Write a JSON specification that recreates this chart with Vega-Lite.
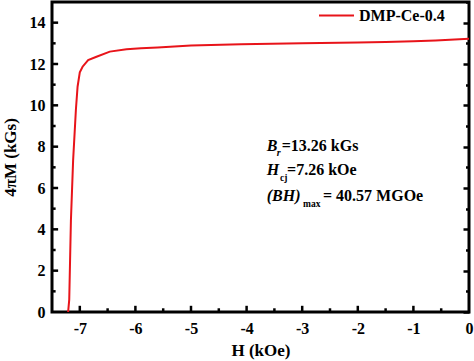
{
  "$schema": "https://vega.github.io/schema/vega-lite/v6.json",
  "width": 417,
  "height": 310,
  "autosize": {"type": "none"},
  "padding": {"left": 52, "top": 2, "right": 5, "bottom": 49},
  "background": "white",
  "config": {
    "view": {"stroke": "#000", "strokeWidth": 3},
    "font": "Times New Roman",
    "axis": {"grid": false, "domain": false, "labelFont": "Times New Roman", "labelFontWeight": "bold", "labelFontSize": 16, "labelColor": "#000", "titleFont": "Times New Roman", "titleFontWeight": "bold", "titleFontSize": 17, "titleColor": "#000", "labelOverlap": false}
  },
  "datasets": {
    "curve": [
      {"H": -7.21, "M": 0, "series": "DMP-Ce-0.4"},
      {"H": -7.19, "M": 0.6, "series": "DMP-Ce-0.4"},
      {"H": -7.16, "M": 4.4, "series": "DMP-Ce-0.4"},
      {"H": -7.12, "M": 7.35, "series": "DMP-Ce-0.4"},
      {"H": -7.07, "M": 9.8, "series": "DMP-Ce-0.4"},
      {"H": -7.04, "M": 10.9, "series": "DMP-Ce-0.4"},
      {"H": -7.0, "M": 11.6, "series": "DMP-Ce-0.4"},
      {"H": -6.95, "M": 11.87, "series": "DMP-Ce-0.4"},
      {"H": -6.85, "M": 12.19, "series": "DMP-Ce-0.4"},
      {"H": -6.7, "M": 12.35, "series": "DMP-Ce-0.4"},
      {"H": -6.46, "M": 12.6, "series": "DMP-Ce-0.4"},
      {"H": -6.16, "M": 12.71, "series": "DMP-Ce-0.4"},
      {"H": -5.9, "M": 12.76, "series": "DMP-Ce-0.4"},
      {"H": -5.6, "M": 12.8, "series": "DMP-Ce-0.4"},
      {"H": -5.0, "M": 12.9, "series": "DMP-Ce-0.4"},
      {"H": -4.1, "M": 12.96, "series": "DMP-Ce-0.4"},
      {"H": -3.0, "M": 13.01, "series": "DMP-Ce-0.4"},
      {"H": -2.0, "M": 13.04, "series": "DMP-Ce-0.4"},
      {"H": -1.5, "M": 13.06, "series": "DMP-Ce-0.4"},
      {"H": -1.0, "M": 13.1, "series": "DMP-Ce-0.4"},
      {"H": -0.6, "M": 13.14, "series": "DMP-Ce-0.4"},
      {"H": 0, "M": 13.22, "series": "DMP-Ce-0.4"}
    ],
    "notes": [
      {"H": -3.638, "M": 7.79, "t": "B", "role": "main"},
      {"H": -3.459, "M": 7.56, "t": "r", "role": "subi"},
      {"H": -3.369, "M": 7.79, "t": "=13.26 kGs", "role": "rest"},
      {"H": -3.638, "M": 6.63, "t": "H", "role": "main"},
      {"H": -3.399, "M": 6.34, "t": "cj", "role": "sub"},
      {"H": -3.273, "M": 6.63, "t": "=7.26 kOe", "role": "rest"},
      {"H": -3.638, "M": 5.37, "t": "(BH)", "role": "main"},
      {"H": -2.986, "M": 5.08, "t": "max", "role": "sub"},
      {"H": -2.626, "M": 5.37, "t": "= 40.57 MGOe", "role": "rest"}
    ],
    "xmajor": [{"H": -7}, {"H": -6}, {"H": -5}, {"H": -4}, {"H": -3}, {"H": -2}, {"H": -1}],
    "xminor": [{"H": -6.5}, {"H": -5.5}, {"H": -4.5}, {"H": -3.5}, {"H": -2.5}, {"H": -1.5}, {"H": -0.5}],
    "ymajor": [{"M": 2}, {"M": 4}, {"M": 6}, {"M": 8}, {"M": 10}, {"M": 12}, {"M": 14}],
    "yminor": [{"M": 1}, {"M": 3}, {"M": 5}, {"M": 7}, {"M": 9}, {"M": 11}, {"M": 13}]
  },
  "layer": [
    {
      "layer": [
        {
          "data": {"name": "curve"},
          "mark": {"type": "line", "strokeWidth": 2, "clip": true},
          "encoding": {
            "x": {"field": "H", "type": "quantitative", "scale": {"domain": [-7.5, 0], "nice": false, "zero": false},
              "axis": {"orient": "bottom", "title": "H (kOe)", "values": [-7, -6, -5, -4, -3, -2, -1, 0],
                "labelExpr": "datum.value + ''", "ticks": false,
                "labelPadding": 8, "titlePadding": 6, "labelFlush": false}},
            "y": {"field": "M", "type": "quantitative", "scale": {"domain": [0, 15], "nice": false},
              "axis": {"orient": "left", "title": "4πM (kGs)", "values": [0, 2, 4, 6, 8, 10, 12, 14], "ticks": false,
                "labelPadding": 7, "titlePadding": 10, "labelFlush": false}},
            "color": {"field": "series", "type": "nominal", "scale": {"range": ["#e8141a"]},
              "legend": {"title": null, "orient": "none", "legendX": 266, "legendY": -5, "symbolType": "stroke", "symbolSize": 1225, "symbolStrokeWidth": 2, "labelFont": "Times New Roman", "labelFontWeight": "bold", "labelFontSize": 16, "labelColor": "#000", "labelOffset": 4}}
          }
        },
        {
          "data": {"name": "xmajor"},
          "mark": {"type": "rule", "color": "#000", "strokeWidth": 2.5},
          "encoding": {"x": {"field": "H", "type": "quantitative"}, "y": {"datum": 0, "type": "quantitative"}, "y2": {"datum": 0.3}}
        },
        {
          "data": {"name": "xminor"},
          "mark": {"type": "rule", "color": "#000", "strokeWidth": 2.5},
          "encoding": {"x": {"field": "H", "type": "quantitative"}, "y": {"datum": 0, "type": "quantitative"}, "y2": {"datum": 0.18}}
        },
        {
          "data": {"name": "ymajor"},
          "mark": {"type": "rule", "color": "#000", "strokeWidth": 2.5},
          "encoding": {"y": {"field": "M", "type": "quantitative"}, "x": {"datum": -7.5, "type": "quantitative"}, "x2": {"datum": -7.39}}
        },
        {
          "data": {"name": "yminor"},
          "mark": {"type": "rule", "color": "#000", "strokeWidth": 2.5},
          "encoding": {"y": {"field": "M", "type": "quantitative"}, "x": {"datum": -7.5, "type": "quantitative"}, "x2": {"datum": -7.435}}
        },
        {
          "data": {"name": "notes"},
          "transform": [{"filter": "datum.role === 'main'"}],
          "mark": {"type": "text", "align": "left", "baseline": "alphabetic", "font": "Times New Roman", "fontWeight": "bold", "fontStyle": "italic", "fontSize": 16, "color": "#000"},
          "encoding": {"x": {"field": "H", "type": "quantitative"}, "y": {"field": "M", "type": "quantitative"}, "text": {"field": "t"}}
        },
        {
          "data": {"name": "notes"},
          "transform": [{"filter": "datum.role === 'subi'"}],
          "mark": {"type": "text", "align": "left", "baseline": "alphabetic", "font": "Times New Roman", "fontWeight": "bold", "fontStyle": "italic", "fontSize": 10, "color": "#000"},
          "encoding": {"x": {"field": "H", "type": "quantitative"}, "y": {"field": "M", "type": "quantitative"}, "text": {"field": "t"}}
        },
        {
          "data": {"name": "notes"},
          "transform": [{"filter": "datum.role === 'sub'"}],
          "mark": {"type": "text", "align": "left", "baseline": "alphabetic", "font": "Times New Roman", "fontWeight": "bold", "fontSize": 9.5, "color": "#000"},
          "encoding": {"x": {"field": "H", "type": "quantitative"}, "y": {"field": "M", "type": "quantitative"}, "text": {"field": "t"}}
        },
        {
          "data": {"name": "notes"},
          "transform": [{"filter": "datum.role === 'rest'"}],
          "mark": {"type": "text", "align": "left", "baseline": "alphabetic", "font": "Times New Roman", "fontWeight": "bold", "fontSize": 16, "color": "#000"},
          "encoding": {"x": {"field": "H", "type": "quantitative"}, "y": {"field": "M", "type": "quantitative"}, "text": {"field": "t"}}
        }
      ]
    },
    {
      "data": {"name": "curve"},
      "mark": {"type": "point", "opacity": 0},
      "encoding": {
        "y": {"field": "M", "type": "quantitative",
          "axis": {"orient": "right", "title": null, "labels": false, "values": [0, 1, 2, 3, 4, 5, 6, 7, 8, 9, 10, 11, 12, 13, 14, 15],
            "ticks": true, "tickColor": "#000", "tickWidth": 2.5, "tickOpacity": 1,
            "tickSize": {"condition": {"test": "datum.value % 2 === 0", "value": -6}, "value": -3.5}}}
      }
    }
  ],
  "resolve": {"axis": {"y": "independent"}}
}
